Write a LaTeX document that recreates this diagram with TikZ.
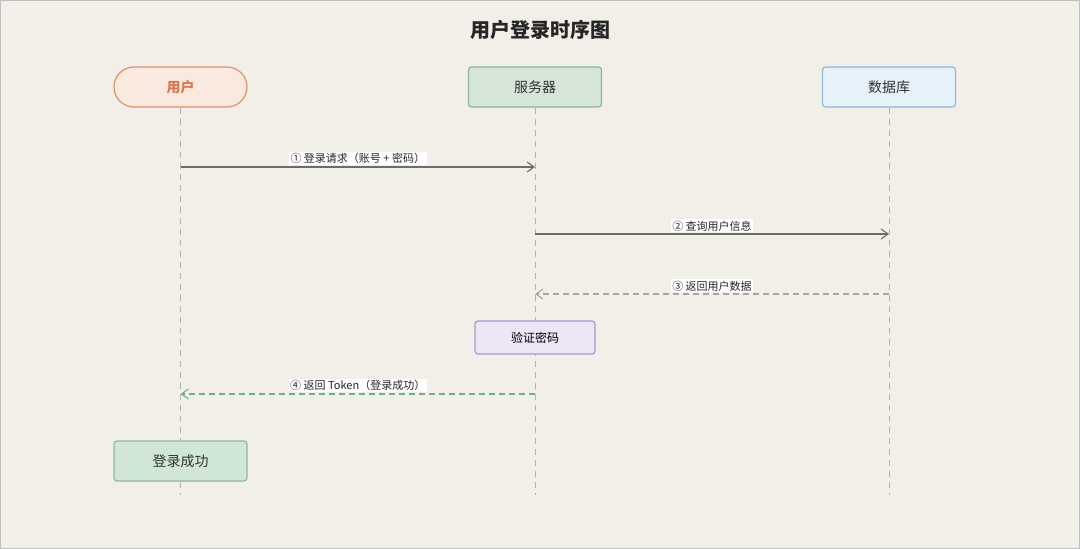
\documentclass[tikz,border=0pt]{standalone}
\usepackage{fontspec}
\setmainfont{Noto Sans CJK SC}
\usetikzlibrary{arrows.meta}
\definecolor{bg}{HTML}{F2EFE9}
\definecolor{uf}{HTML}{FAE9DF}\definecolor{ud}{HTML}{E0906F}\definecolor{ut}{HTML}{D9784F}
\definecolor{sf}{HTML}{D5E5D8}\definecolor{sd}{HTML}{8DB597}
\definecolor{df}{HTML}{E6F1F9}\definecolor{dd}{HTML}{8FB8DA}
\definecolor{vf}{HTML}{ECE6F6}\definecolor{vd}{HTML}{A896D6}
\definecolor{of}{HTML}{D0E6D6}\definecolor{od}{HTML}{8DBB9A}
\definecolor{gr}{HTML}{6DB38A}
\begin{document}
\begin{tikzpicture}[x=1pt,y=-1pt,
  hdr/.style={draw, line width=1.2pt, minimum width=133pt, minimum height=40pt, rounded corners=3pt, font=\fontsize{14}{16}\selectfont, text=black!80},
  life/.style={draw=gray!60, dash pattern=on 6pt off 5pt, line width=1pt},
  msg/.style={draw=gray!85!black, line width=1.1pt, -{Straight Barb[length=7pt,width=10pt]}},
  lbl/.style={fill=white, inner sep=1.5pt, font=\fontsize{11}{13}\selectfont, text=black!85}]
\path[fill=bg, draw=gray!50] (0.5,0.5) rectangle (1079.5,548.5);
\useasboundingbox (0,0) rectangle (1080,549);
\node[font=\bfseries\fontsize{20}{24}\selectfont, text=black!85] (title) at (540,30) {用户登录时序图};
\node[hdr, rounded corners=20pt, fill=uf, draw=ud, text=ut, font=\bfseries\fontsize{14}{16}\selectfont] (u) at (180.5,87) {用户};
\node[hdr, fill=sf, draw=sd] (s) at (535,87) {服务器};
\node[hdr, fill=df, draw=dd] (d) at (889,87) {数据库};
\coordinate (ue) at (180.5,495);
\coordinate (se) at (535,495);
\coordinate (de) at (889,495);
\draw[life] (u.south) -- (ue);
\draw[life] (s.south) -- (se);
\draw[life] (d.south) -- (de);
\node[draw=vd, line width=1.2pt, fill=vf, minimum width=120pt, minimum height=33pt, rounded corners=3pt, font=\fontsize{12}{14}\selectfont] (v) at (535,337.5) {验证密码};
\node[hdr, fill=of, draw=od] (ok) at (180.5,461) {登录成功};
\coordinate (a1) at (180.5,167); \coordinate (b1) at (535,167);
\coordinate (a2) at (535,234); \coordinate (b2) at (889,234);
\coordinate (a3) at (889,294); \coordinate (b3) at (535,294);
\coordinate (a4) at (535,394); \coordinate (b4) at (180.5,394);
\draw[msg] (a1) -- node[lbl, above=1pt] {① 登录请求（账号 + 密码）} (b1);
\draw[msg] (a2) -- node[lbl, above=1pt] {② 查询用户信息} (b2);
\draw[msg, draw=gray!70, dash pattern=on 6pt off 4pt] (a3) -- node[lbl, above=1pt] {③ 返回用户数据} (b3);
\draw[msg, draw=gr, dash pattern=on 6pt off 4pt] (a4) -- node[lbl, above=1pt] {④ 返回 Token（登录成功）} (b4);
\end{tikzpicture}
\end{document}
